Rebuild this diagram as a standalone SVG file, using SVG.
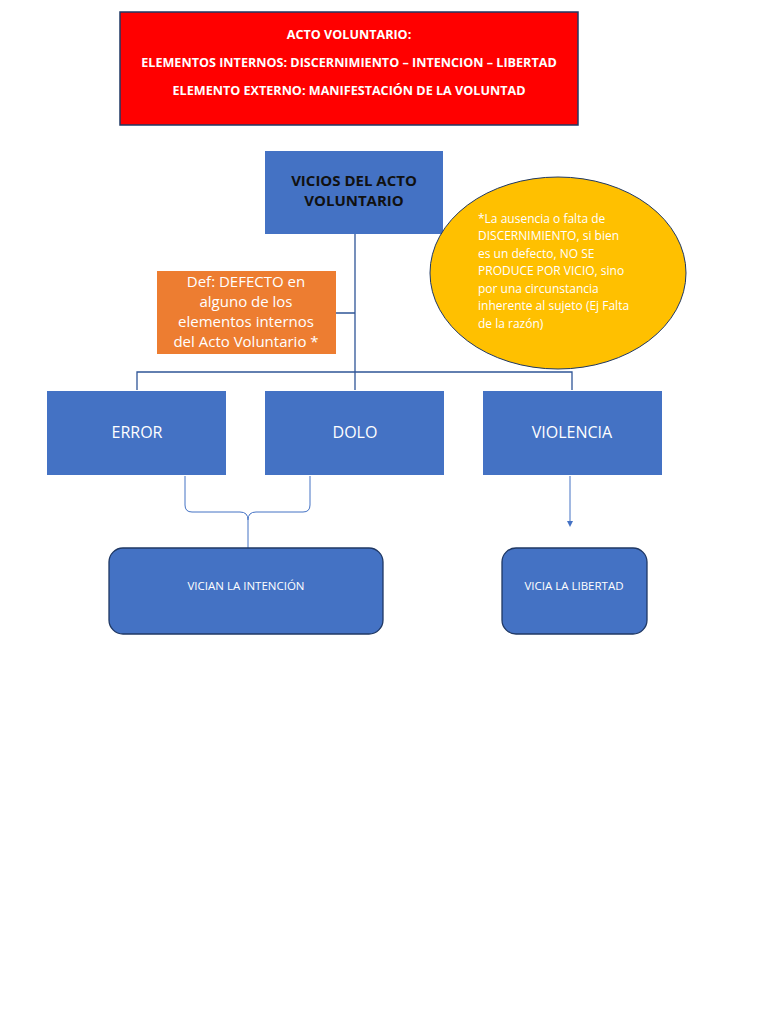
<svg xmlns="http://www.w3.org/2000/svg" width="768" height="1024" viewBox="0 0 768 1024">
<style>
text{font-family:"Open Sans","Liberation Sans",sans-serif;text-anchor:middle}
text.s{text-anchor:start}
.b{fill:#4472c4}
.w{fill:#fff}
.c{fill:none;stroke:#2f5597;stroke-width:1.3}
.t{fill:none;stroke:#4472c4;stroke-width:1}
</style>
<defs><marker id="a" markerWidth="6" markerHeight="6" refX="3" refY="3" orient="auto"><path d="M0,0L6,3L0,6z" fill="#4472c4"/></marker></defs>
<rect width="768" height="1024" fill="#fff"/>
<g id="header">
<rect x="120" y="12" width="458" height="113" fill="#ff0000" stroke="#1f3864" stroke-width="1.5"/>
<g font-size="12.6" font-weight="bold" fill="#fff">
<text x="349" y="39">ACTO VOLUNTARIO:</text>
<text x="349" y="67">ELEMENTOS INTERNOS: DISCERNIMIENTO – INTENCION – LIBERTAD</text>
<text x="349" y="95">ELEMENTO EXTERNO: MANIFESTACIÓN DE LA VOLUNTAD</text>
</g>
</g>
<g id="connectors">
<path class="c" d="M355 234V390M336 313H355M137 390V372H572V390"/>
<path class="t" d="M185 476V505Q185 512 192 512H240Q248 512 248 520V548M310 476V505Q310 512 303 512H256Q248 512 248 520"/>
<path class="t" d="M570 476V524" marker-end="url(#a)"/>
</g>
<g id="vicios"><rect class="b" x="265" y="151" width="178" height="83"/>
<text x="354" y="186" font-size="15" font-weight="bold" fill="#111">VICIOS DEL ACTO</text>
<text x="354" y="206" font-size="15" font-weight="bold" fill="#111">VOLUNTARIO</text></g>
<g id="def"><rect x="157" y="271" width="179" height="83" fill="#ed7d31"/>
<g font-size="15" class="w"><text x="246" y="287">Def: DEFECTO en</text><text x="246" y="307">alguno de los</text><text x="246" y="327">elementos internos</text><text x="246" y="347">del Acto Voluntario *</text></g></g>
<g id="nota"><ellipse cx="558" cy="273" rx="128" ry="96" fill="#ffc000" stroke="#1f3864" stroke-width="1"/>
<g font-size="12" class="w"><text class="s" x="478" y="223">*La ausencia o falta de</text><text class="s" x="478" y="240">DISCERNIMIENTO, si bien</text><text class="s" x="478" y="258">es un defecto, NO SE</text><text class="s" x="478" y="275">PRODUCE POR VICIO, sino</text><text class="s" x="478" y="293">por una circunstancia</text><text class="s" x="478" y="310">inherente al sujeto (Ej Falta</text><text class="s" x="478" y="328">de la razón)</text></g></g>
<g id="error"><rect class="b" x="47" y="391" width="179" height="84"/><text x="137" y="438" font-size="16" class="w">ERROR</text></g>
<g id="dolo"><rect class="b" x="265" y="391" width="179" height="84"/><text x="355" y="438" font-size="16" class="w">DOLO</text></g>
<g id="violencia"><rect class="b" x="483" y="391" width="179" height="84"/><text x="572" y="438" font-size="16" class="w">VIOLENCIA</text></g>
<g id="intencion"><rect class="b" x="109" y="548" width="274" height="86" rx="14" stroke="#1f3864" stroke-width="1.3"/><text x="246" y="590" font-size="11.5" class="w">VICIAN LA INTENCIÓN</text></g>
<g id="libertad"><rect class="b" x="502" y="548" width="145" height="86" rx="14" stroke="#1f3864" stroke-width="1.3"/><text x="574" y="590" font-size="11.5" class="w">VICIA LA LIBERTAD</text></g>
</svg>
